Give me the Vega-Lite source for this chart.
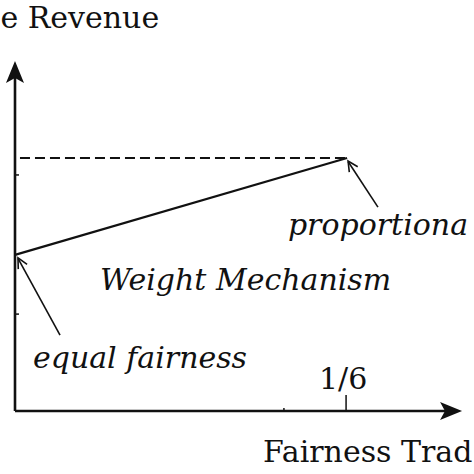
{
  "$schema": "https://vega.github.io/schema/vega-lite/v6.json",
  "description": "Revenue vs fairness tradeoff sketch: weight mechanism line from equal fairness to proportional.",
  "width": 474,
  "height": 474,
  "autosize": {"type": "none"},
  "padding": 0,
  "background": "white",
  "config": {"view": {"stroke": null}},
  "datasets": {
    "segments": [
      {"part": "axis", "x": 0, "y": 0, "x2": 0, "y2": 1.32},
      {"part": "axis", "x": 0, "y": 0, "x2": 0.216, "y2": 0},
      {"part": "tick", "x": 0, "y": 0.933, "x2": 0.002, "y2": 0.933},
      {"part": "tick", "x": 0, "y": 0.383, "x2": 0.002, "y2": 0.383},
      {"part": "tick", "x": 0.1662, "y": 0, "x2": 0.1662, "y2": 0.063},
      {"part": "tick", "x": 0.135, "y": 0, "x2": 0.135, "y2": 0.012},
      {"part": "dash", "x": 0.0025, "y": 1, "x2": 0.1657, "y2": 1},
      {"part": "main", "x": 0, "y": 0.617, "x2": 0.1667, "y2": 1},
      {"part": "pointer", "x": 0.0226, "y": 0.300, "x2": 0.0015, "y2": 0.603},
      {"part": "pointer", "x": 0.1822, "y": 0.806, "x2": 0.1672, "y2": 0.986}
    ],
    "heads": [
      {"head": "yaxis", "x": 0, "y": 1.340},
      {"head": "xaxis", "x": 0.2189, "y": 0},
      {"head": "equal", "x": 0.0015, "y": 0.605},
      {"head": "proportional", "x": 0.1672, "y": 0.988}
    ],
    "labels": [
      {"style": "upright", "label": "e Revenue", "x": -0.0073, "y": 1.514},
      {"style": "upright", "label": "Fairness Trad", "x": 0.1245, "y": -0.2016},
      {"style": "tick", "label": "1/6", "x": 0.1647, "y": 0.087},
      {"style": "italic", "label": "Weight Mechanism", "x": 0.0427, "y": 0.478},
      {"style": "italic", "label": "equal fairness", "x": 0.009, "y": 0.170},
      {"style": "italic", "label": "proportiona", "x": 0.137, "y": 0.696}
    ]
  },
  "encoding": {
    "x": {"field": "x", "type": "quantitative", "scale": {"domain": [-0.00753, 0.23042], "nice": false, "zero": false}, "axis": null},
    "y": {"field": "y", "type": "quantitative", "scale": {"domain": [-0.249, 1.6245], "nice": false, "zero": false}, "axis": null}
  },
  "layer": [
    {
      "data": {"name": "segments"},
      "transform": [{"filter": "datum.part === 'axis'"}],
      "mark": {"type": "rule", "stroke": "#111", "strokeWidth": 2.6},
      "encoding": {"x2": {"field": "x2"}, "y2": {"field": "y2"}}
    },
    {
      "data": {"name": "segments"},
      "transform": [{"filter": "datum.part === 'tick'"}],
      "mark": {"type": "rule", "stroke": "#111", "strokeWidth": 1.5},
      "encoding": {"x2": {"field": "x2"}, "y2": {"field": "y2"}}
    },
    {
      "data": {"name": "segments"},
      "transform": [{"filter": "datum.part === 'dash'"}],
      "mark": {"type": "rule", "stroke": "#111", "strokeWidth": 2, "strokeDash": [10, 5]},
      "encoding": {"x2": {"field": "x2"}, "y2": {"field": "y2"}}
    },
    {
      "data": {"name": "segments"},
      "transform": [{"filter": "datum.part === 'main'"}],
      "mark": {"type": "rule", "stroke": "#111", "strokeWidth": 2.2},
      "encoding": {"x2": {"field": "x2"}, "y2": {"field": "y2"}}
    },
    {
      "data": {"name": "segments"},
      "transform": [{"filter": "datum.part === 'pointer'"}],
      "mark": {"type": "rule", "stroke": "#111", "strokeWidth": 1.6},
      "encoding": {"x2": {"field": "x2"}, "y2": {"field": "y2"}}
    },
    {
      "data": {"name": "heads"},
      "transform": [{"filter": "datum.head === 'yaxis'"}],
      "mark": {"type": "point", "shape": "M0,-1L0.82,1L0,0.55L-0.82,1Z", "size": 484, "filled": true, "fill": "#111", "opacity": 1}
    },
    {
      "data": {"name": "heads"},
      "transform": [{"filter": "datum.head === 'xaxis'"}],
      "mark": {"type": "point", "shape": "M1,0L-1,0.82L-0.55,0L-1,-0.82Z", "size": 484, "filled": true, "fill": "#111", "opacity": 1}
    },
    {
      "data": {"name": "heads"},
      "transform": [{"filter": "datum.head === 'equal'"}],
      "mark": {"type": "point", "shape": "M-0.5,1L0,0L0.5,1", "size": 400, "filled": false, "stroke": "#111", "strokeWidth": 1.6, "opacity": 1, "angle": 332}
    },
    {
      "data": {"name": "heads"},
      "transform": [{"filter": "datum.head === 'proportional'"}],
      "mark": {"type": "point", "shape": "M-0.5,1L0,0L0.5,1", "size": 400, "filled": false, "stroke": "#111", "strokeWidth": 1.6, "opacity": 1, "angle": 327}
    },
    {
      "data": {"name": "labels"},
      "transform": [{"filter": "datum.style === 'upright'"}],
      "mark": {"type": "text", "font": "DejaVu Serif", "fontSize": 30, "align": "left", "baseline": "alphabetic", "fill": "#111"},
      "encoding": {"text": {"field": "label"}}
    },
    {
      "data": {"name": "labels"},
      "transform": [{"filter": "datum.style === 'tick'"}],
      "mark": {"type": "text", "font": "DejaVu Serif", "fontSize": 30, "align": "center", "baseline": "alphabetic", "fill": "#111"},
      "encoding": {"text": {"field": "label"}}
    },
    {
      "data": {"name": "labels"},
      "transform": [{"filter": "datum.style === 'italic'"}],
      "mark": {"type": "text", "font": "DejaVu Serif", "fontStyle": "italic", "fontSize": 30, "align": "left", "baseline": "alphabetic", "fill": "#111"},
      "encoding": {"text": {"field": "label"}}
    }
  ]
}
